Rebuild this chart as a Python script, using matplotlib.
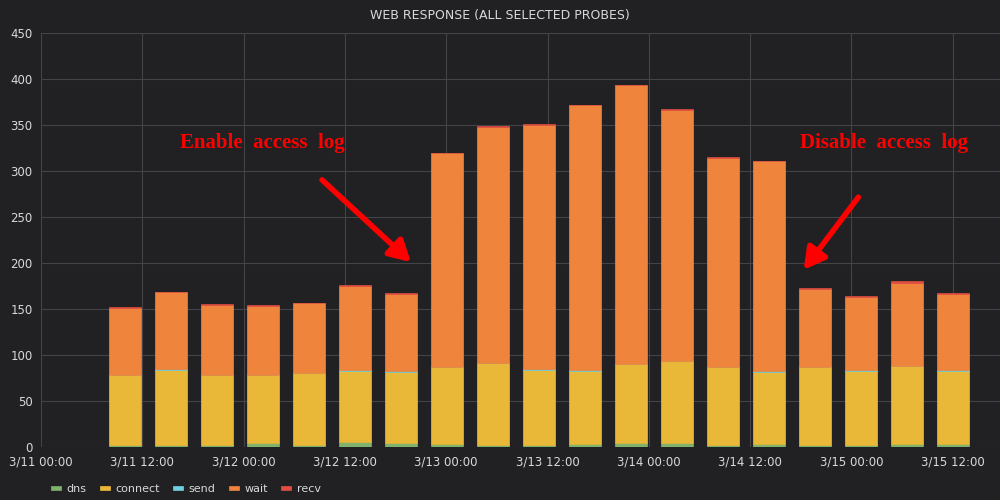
import matplotlib
matplotlib.use("Agg")
import matplotlib.pyplot as plt
import numpy as np

hours = [9.95 + 5.45 * i for i in range(19)]
totals = [152, 169, 155, 154, 157, 176, 167, 320, 349, 351, 372, 394, 367, 315, 311, 173, 164, 180, 167]
conn_top = [78, 84, 78, 78, 80, 83, 82, 87, 91, 84, 83, 90, 93, 87, 82, 87, 83, 88, 83]
dns = [2, 2, 2, 4, 2, 5, 4, 3, 2, 2, 3, 4, 4, 2, 3, 2, 2, 3, 3]
send = [0.3] * 19
recv = [1, 0.5, 0.5, 0.5, 0.5, 1.5, 0.5, 0.5, 1, 0.5, 0.5, 0.5, 0.5, 0.5, 0.5, 1, 0.5, 1.5, 0.5]
connect = [c - d for c, d in zip(conn_top, dns)]
wait = [t - c - s - r for t, c, s, r in zip(totals, conn_top, send, recv)]
tick_labels = ["3/11 00:00", "3/11 12:00", "3/12 00:00", "3/12 12:00", "3/13 00:00",
               "3/13 12:00", "3/14 00:00", "3/14 12:00", "3/15 00:00", "3/15 12:00"]

bg = "#212124"
fig = plt.figure(figsize=(10, 5), dpi=100, facecolor=bg)
ax = fig.add_axes([0.041, 0.106, 0.959, 0.828], facecolor=bg)
x = np.array(hours)
w = 3.8
series = [("dns", dns, "#7eb26d"), ("connect", connect, "#eab839"), ("send", send, "#6ed0e0"),
          ("wait", wait, "#ef843c"), ("recv", recv, "#e24d42")]
bottom = np.zeros(19)
for name, vals, col in series:
    v = np.array(vals, dtype=float)
    ax.bar(x, v, w, bottom=bottom, color=col, edgecolor=col, linewidth=0.5, label=name)
    bottom += v
ax.set_xlim(0, 113.6)
ax.set_ylim(0, 450)
ax.set_xticks(np.arange(0, 109, 12))
ax.set_xticklabels(tick_labels)
ax.set_yticks(np.arange(0, 451, 50))
ax.grid(True, color="#444448", linewidth=0.8)
ax.set_axisbelow(True)
for s in ax.spines.values():
    s.set_visible(False)
ax.tick_params(colors="#d8d9da", labelsize=8.5, length=0, pad=6)
fig.text(0.5, 0.97, "WEB RESPONSE (ALL SELECTED PROBES)", ha="center", va="center",
         color="#d8d9da", fontsize=9)
leg = ax.legend(loc="upper left", bbox_to_anchor=(0.0, -0.065), ncol=5, frameon=False,
                fontsize=8, labelcolor="#d8d9da", handlelength=0.9, handleheight=0.2,
                columnspacing=1.2, handletextpad=0.5)
for h in leg.legend_handles:
    h.set_height(2.5)

fig.text(0.18, 0.714, "Enable  access  log", color="red", fontsize=15, fontweight="bold",
         family="Liberation Serif", va="center")
fig.text(0.80, 0.714, "Disable  access  log", color="red", fontsize=15, fontweight="bold",
         family="Liberation Serif", va="center")
arrow = dict(arrowstyle="-|>,head_width=0.5,head_length=0.9", color="red", lw=4)
fig.patches.append(matplotlib.patches.FancyArrowPatch((0.320, 0.644), (0.413, 0.472),
                   transform=fig.transFigure, mutation_scale=14, **arrow))
fig.patches.append(matplotlib.patches.FancyArrowPatch((0.860, 0.610), (0.802, 0.456),
                   transform=fig.transFigure, mutation_scale=14, **arrow))
fig.savefig("out.png", dpi=100, facecolor=bg)
